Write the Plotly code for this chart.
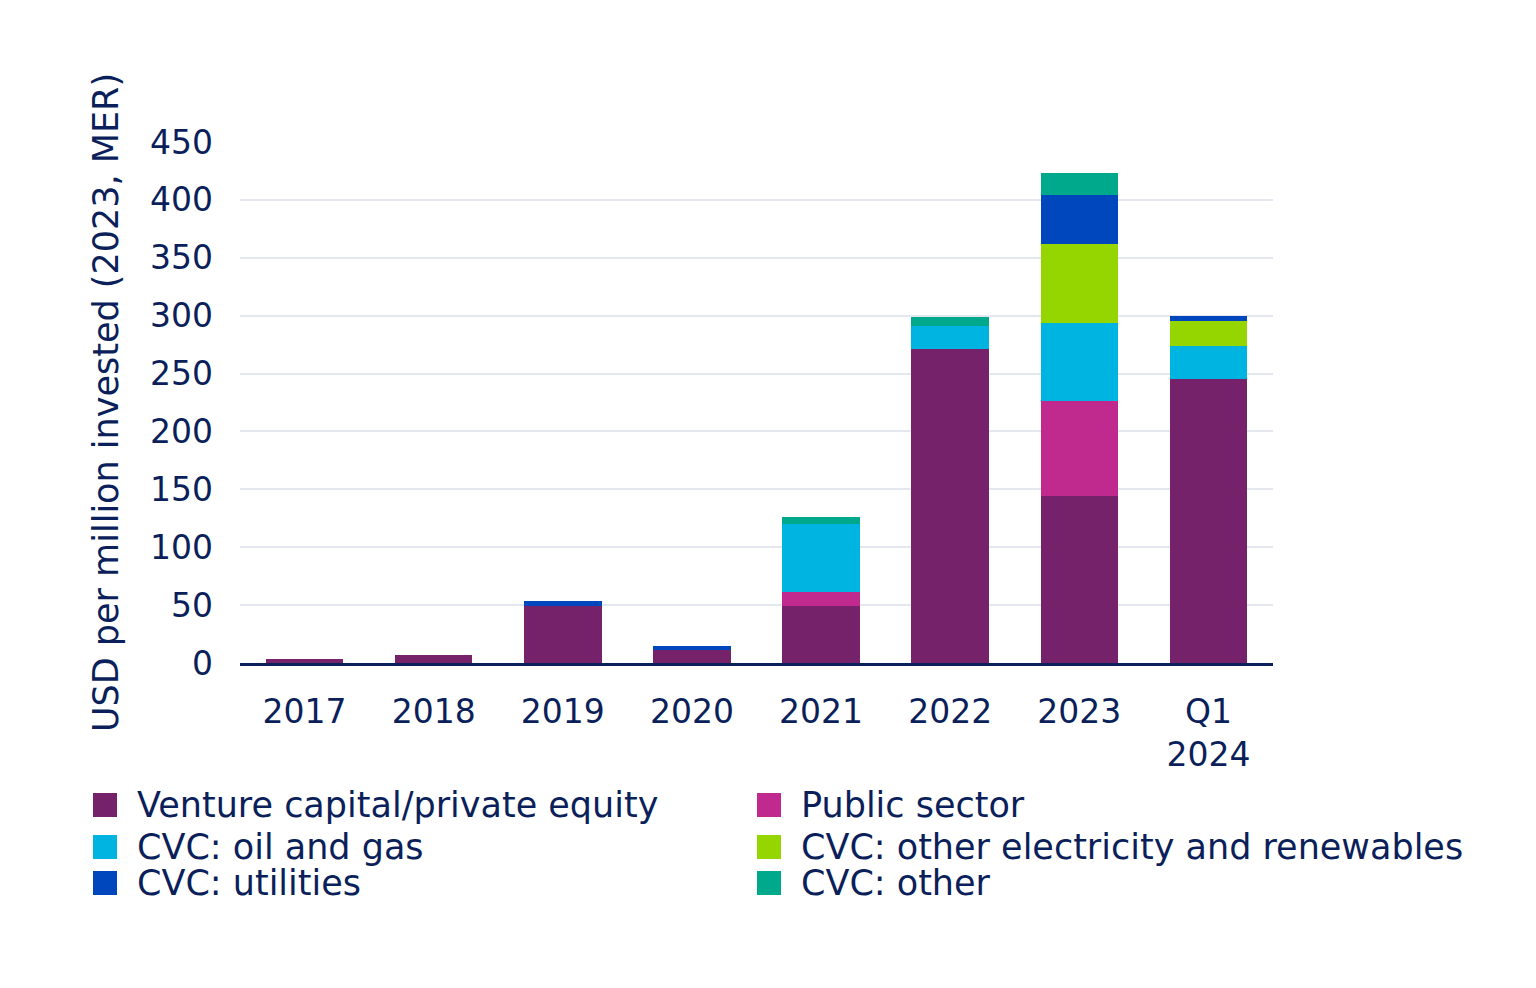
import plotly.graph_objects as go

categories = ["2017", "2018", "2019", "2020", "2021", "2022", "2023", "Q1<br>2024"]
series_names = [
    "Venture capital/private equity",
    "Public sector",
    "CVC: oil and gas",
    "CVC: other electricity and renewables",
    "CVC: utilities",
    "CVC: other",
]
vc_pe = [3.5, 6.5, 49.5, 11, 49, 271, 144, 245.5]
public_sector = [0, 0, 0, 0, 12, 0, 82, 0]
cvc_oil_gas = [0, 0, 0, 0, 59, 20, 68, 28]
cvc_elec_renew = [0, 0, 0, 0, 0, 0, 68, 22]
cvc_utilities = [0, 0, 4, 4, 0, 0, 42, 4.5]
cvc_other = [0, 0, 0, 0, 6, 8, 19, 0]
series_values = [vc_pe, public_sector, cvc_oil_gas, cvc_elec_renew, cvc_utilities, cvc_other]
colors = ["#75226A", "#C0298D", "#00B4E1", "#95D600", "#0046BD", "#00A98C"]
y_ticks = [0, 50, 100, 150, 200, 250, 300, 350, 400, 450]

TEXT = "#0B1F5A"
FONT = "DejaVu Sans"
FS = 33
FS_LEG = 35
FS_TITLE = 35

OFF = 8  # page body offset
W, H = 1536, 988
L, R, T, B = 240 - OFF, 1536 - 1273 + OFF, 142 - OFF, 988 - 663 + OFF
pw, ph = W - L - R, H - T - B

def px_x(px):
    return (px - OFF - L) / pw

def px_y(py):
    return (H - B - (py - OFF)) / ph

fig = go.Figure()
for name, vals, col in zip(series_names, series_values, colors):
    fig.add_trace(go.Bar(
        x=categories, y=vals, name=name, marker=dict(color=col, line=dict(width=0)),
        showlegend=False,
    ))

# manual legend (two columns, three rows)
legend_pos = [(93, 805), (757, 805), (93, 847), (757, 847), (93, 883), (757, 883)]
shapes = []
annotations = []
for (lx, ly), name, col in zip(legend_pos, series_names, colors):
    shapes.append(dict(type="rect", xref="paper", yref="paper",
                       x0=px_x(lx), x1=px_x(lx + 24), y0=px_y(ly + 12), y1=px_y(ly - 12),
                       fillcolor=col, line=dict(width=0)))
    annotations.append(dict(xref="paper", yref="paper", x=px_x(lx + 42), y=px_y(ly),
                            xanchor="left", yanchor="middle", showarrow=False,
                            text=name, font=dict(family=FONT, size=FS_LEG, color=TEXT)))

fig.update_layout(
    barmode="stack",
    bargap=0.40,
    width=W, height=H,
    margin=dict(l=L, r=R, t=T, b=B),
    paper_bgcolor="white",
    plot_bgcolor="white",
    font=dict(family=FONT, size=FS, color=TEXT),
    shapes=shapes,
    annotations=annotations,
    showlegend=False,
)
fig.update_xaxes(
    type="category",
    showgrid=False,
    showline=True, linecolor="#0B1F5A", linewidth=3,
    ticks="", ticklabelstandoff=17,
    tickfont=dict(family=FONT, size=FS, color=TEXT),
)
fig.update_yaxes(
    range=[0, 450],
    tickvals=y_ticks,
    showgrid=True, gridcolor="#E4E7EE", gridwidth=2,
    zeroline=False,
    showline=False,
    ticks="", ticklabelstandoff=26,
    tickfont=dict(family=FONT, size=FS, color=TEXT),
    title=dict(text="USD per million invested (2023, MER)", standoff=20,
               font=dict(family=FONT, size=FS_TITLE, color=TEXT)),
)

fig.write_html("out.html")
